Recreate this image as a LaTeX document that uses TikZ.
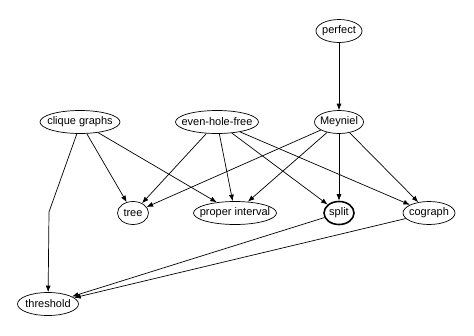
\documentclass[tikz,border=0pt]{standalone}
\usepackage{fontspec}
\setmainfont{Liberation Sans}
\usetikzlibrary{shapes.geometric, arrows.meta}
\newcommand{\lbl}[1]{\makebox[0pt]{#1}}
\begin{document}
\begin{tikzpicture}[x=1pt, y=-1pt, >={Latex[length=6.5pt,width=5pt]},
  vertex/.style={ellipse, draw, line width=0.7pt, inner sep=0pt, minimum height=23pt, font=\fontsize{11}{13}\selectfont},
  edge/.style={->, line width=0.7pt}]
  \useasboundingbox (0,0) rectangle (474,335);
  % classes
  \node[vertex, minimum width=46pt] (perfect) at (339,31) {\lbl{perfect}};
  \node[vertex, minimum width=49pt] (meyniel) at (339,122) {\lbl{Meyniel}};
  \node[vertex, minimum width=80pt] (clique) at (80,122) {\lbl{clique graphs}};
  \node[vertex, minimum width=83pt] (evenhole) at (217,122) {\lbl{even-hole-free}};
  \node[vertex, minimum width=31pt] (tree) at (133,213) {\lbl{tree}};
  \node[vertex, minimum width=83pt] (proper) at (235,213) {\lbl{proper interval}};
  \node[vertex, minimum width=30pt, line width=1.6pt] (split) at (339,213) {\lbl{split}};
  \node[vertex, minimum width=52pt] (cograph) at (429,213) {\lbl{cograph}};
  \node[vertex, minimum width=61pt] (threshold) at (48,304) {\lbl{threshold}};
  \coordinate (bend) at (49,212);
  % inclusions
  \draw[edge] (perfect) -- (meyniel);
  \draw[edge] (clique) -- (tree);
  \draw[edge] (clique) -- (proper);
  \draw[edge] (clique.255) -- (bend) -- (threshold);
  \draw[edge] (evenhole) -- (tree);
  \draw[edge] (evenhole) -- (proper);
  \draw[edge] (evenhole) -- (split);
  \draw[edge] (evenhole) -- (cograph);
  \draw[edge] (meyniel) -- (tree);
  \draw[edge] (meyniel) -- (proper);
  \draw[edge] (meyniel) -- (split);
  \draw[edge] (meyniel) -- (cograph);
  \draw[edge] (split) -- (threshold);
  \draw[edge] (cograph) -- (threshold);
\end{tikzpicture}
\end{document}
